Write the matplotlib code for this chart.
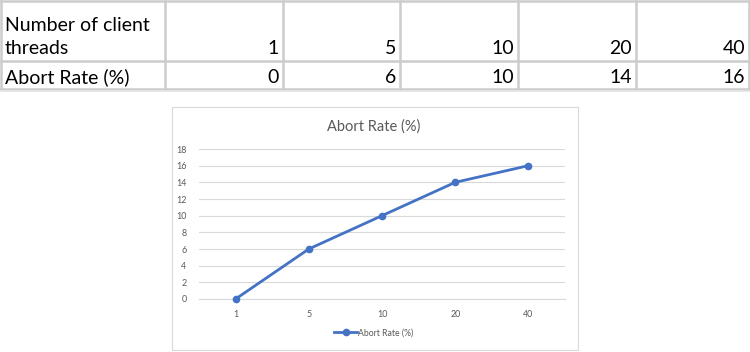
import matplotlib.pyplot as plt
from matplotlib.patches import Rectangle

plt.rcParams['font.family'] = ['Lato', 'DejaVu Sans']

# data
threads = ['1', '5', '10', '20', '40']
abort_rate = [0, 6, 10, 14, 16]
row_labels = ['Number of client\nthreads', 'Abort Rate (%)']
series_name = 'Abort Rate (%)'

BLUE = '#4472C4'
GRID = '#D9D9D9'
TEXT = '#595959'
W, H = 750, 352

fig = plt.figure(figsize=(W / 100, H / 100), dpi=100)

# overlay in pixel coords for the spreadsheet table and chart frame
over = fig.add_axes([0, 0, 1, 1])
over.set_xlim(0, W)
over.set_ylim(H, 0)
over.axis('off')

col_edges = [1, 165, 283, 400, 518, 636, 749]
row_edges = [1, 61, 89]
line_col = '#CCCCCC'
for x in col_edges:
    over.plot([x, x], [row_edges[0], row_edges[-1]], color=line_col, lw=1.8)
for y in row_edges:
    over.plot([col_edges[0], col_edges[-1]], [y, y], color=line_col, lw=1.8)
over.plot([col_edges[0], col_edges[-1]], [91, 91], color='#E4E4E4', lw=1.2)

tfs = 14
over.text(5, 54, row_labels[0], fontsize=tfs, ha='left', va='baseline',
          linespacing=1.45, color='black')
over.text(5, 83, row_labels[1], fontsize=tfs, ha='left', va='baseline', color='black')
for i, (t, v) in enumerate(zip(threads, abort_rate)):
    xr = col_edges[i + 2] - 4
    over.text(xr, 54, t, fontsize=tfs, ha='right', va='baseline', color='black')
    over.text(xr, 83, str(v), fontsize=tfs, ha='right', va='baseline', color='black')

# chart frame
over.add_patch(Rectangle((172, 107), 406, 243, fill=False, ec=GRID, lw=0.8))
over.text(374, 127, series_name, fontsize=10.5, color=TEXT, ha='center', va='center')

# chart
ax = fig.add_axes([199 / W, 1 - 299 / H, 366 / W, 150 / H])
x = list(range(len(threads)))
ax.plot(x, abort_rate, color=BLUE, lw=2.0, marker='o', markersize=4.5,
        clip_on=False, zorder=3, label=series_name)
ax.set_xlim(-0.5, len(threads) - 0.5)
ax.set_ylim(0, 18)
ax.set_yticks(range(0, 19, 2))
ax.set_xticks(x)
ax.set_xticklabels(threads)
ax.grid(axis='y', color=GRID, lw=0.8)
ax.set_axisbelow(True)
for s in ['top', 'right', 'left']:
    ax.spines[s].set_visible(False)
ax.spines['bottom'].set_color(GRID)
ax.spines['bottom'].set_linewidth(0.8)
ax.tick_params(length=0, labelsize=6.4, colors=TEXT, pad=8)
ax.tick_params(axis='y', pad=9)
ax.patch.set_alpha(0)

ax.legend(loc='center', bbox_to_anchor=(374 / W, 1 - 333 / H),
          bbox_transform=fig.transFigure, frameon=False, fontsize=6.2,
          labelcolor=TEXT, handlelength=2.6, handletextpad=0.2)

fig.savefig('out.png', dpi=100)
